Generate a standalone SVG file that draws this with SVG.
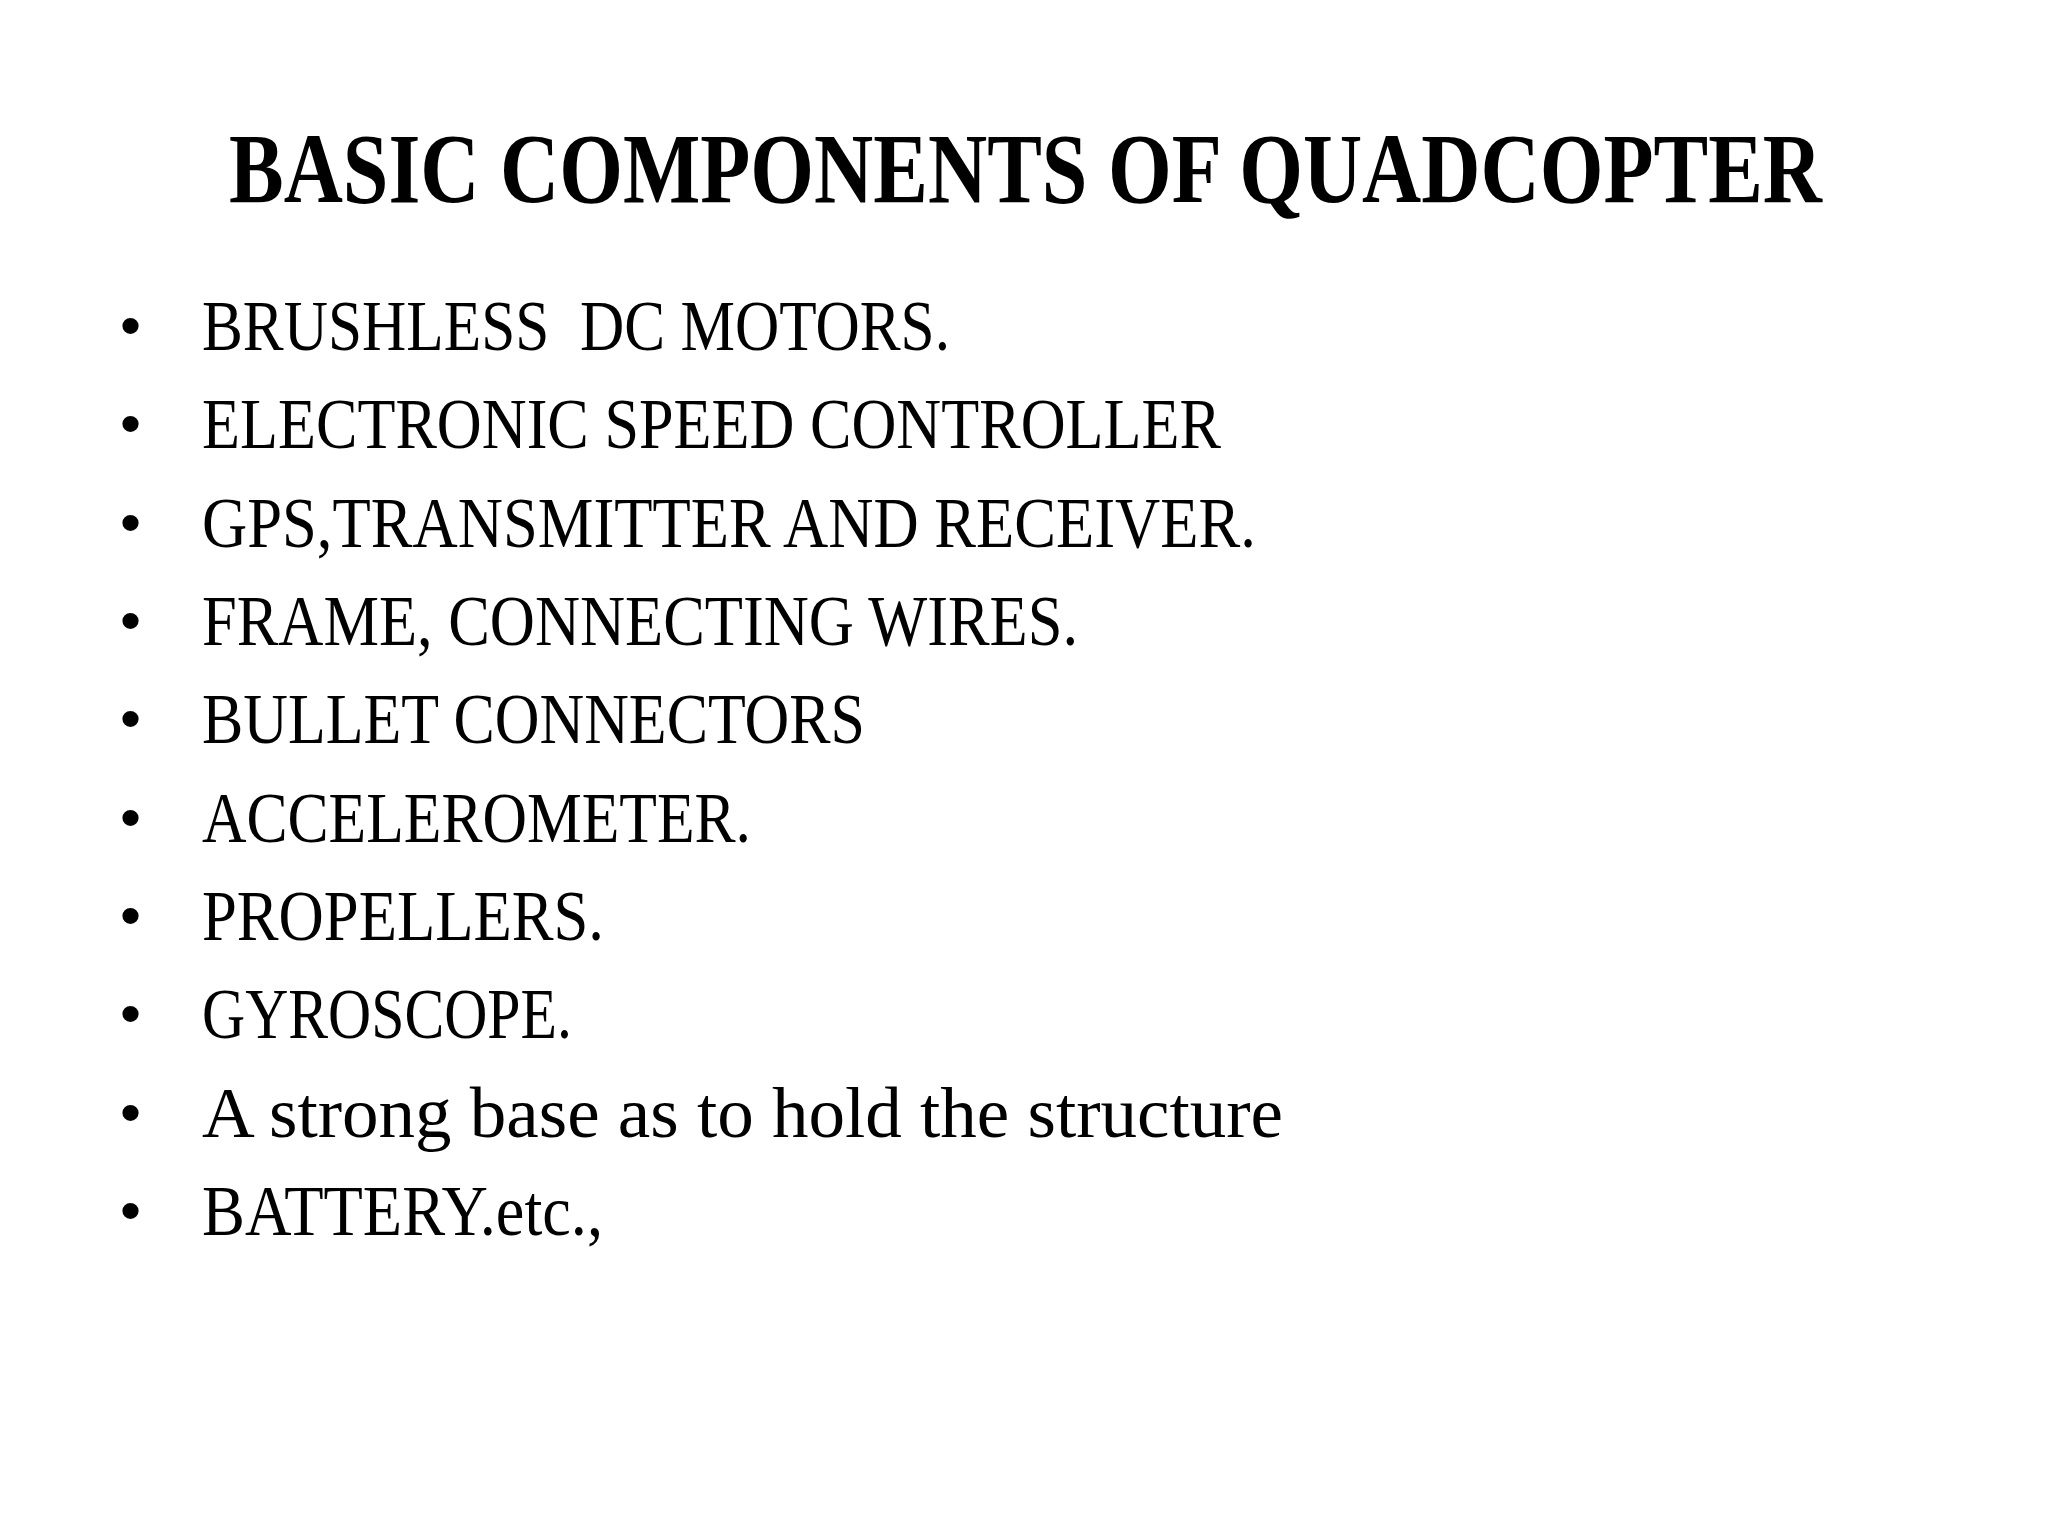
<svg xmlns="http://www.w3.org/2000/svg" width="2048" height="1536" viewBox="0 0 2048 1536">
<style>
.t{font-family:"Liberation Serif",serif;font-weight:bold;font-size:100px;fill:#000}
.b{font-family:"Liberation Serif",serif;font-size:72px;fill:#000}
.d{font-family:"Liberation Sans",sans-serif;font-size:60px;fill:#000}
</style>
<rect width="2048" height="1536" fill="#fff"/>
<text class="t" x="229" y="202" textLength="1593" lengthAdjust="spacingAndGlyphs">BASIC COMPONENTS OF QUADCOPTER</text>
<g id="list">
<text class="d" x="120" y="346">•</text><text class="b" x="202" y="350" textLength="748" lengthAdjust="spacingAndGlyphs" xml:space="preserve">BRUSHLESS  DC MOTORS.</text>
<text class="d" x="120" y="444">•</text><text class="b" x="202" y="448" textLength="1019" lengthAdjust="spacingAndGlyphs">ELECTRONIC SPEED CONTROLLER</text>
<text class="d" x="120" y="543">•</text><text class="b" x="202" y="547" textLength="1054" lengthAdjust="spacingAndGlyphs">GPS,TRANSMITTER AND RECEIVER.</text>
<text class="d" x="120" y="641">•</text><text class="b" x="202" y="645" textLength="876" lengthAdjust="spacingAndGlyphs">FRAME, CONNECTING WIRES.</text>
<text class="d" x="120" y="739">•</text><text class="b" x="202" y="743" textLength="663" lengthAdjust="spacingAndGlyphs">BULLET CONNECTORS</text>
<text class="d" x="120" y="838">•</text><text class="b" x="202" y="842" textLength="549" lengthAdjust="spacingAndGlyphs">ACCELEROMETER.</text>
<text class="d" x="120" y="936">•</text><text class="b" x="202" y="940" textLength="402" lengthAdjust="spacingAndGlyphs">PROPELLERS.</text>
<text class="d" x="120" y="1034">•</text><text class="b" x="202" y="1038" textLength="370" lengthAdjust="spacingAndGlyphs">GYROSCOPE.</text>
<text class="d" x="120" y="1133">•</text><text class="b" x="202" y="1137" textLength="1081" lengthAdjust="spacingAndGlyphs">A strong base as to hold the structure</text>
<text class="d" x="120" y="1231">•</text><text class="b" x="202" y="1235" textLength="401" lengthAdjust="spacingAndGlyphs">BATTERY.etc.,</text>
</g>
</svg>
